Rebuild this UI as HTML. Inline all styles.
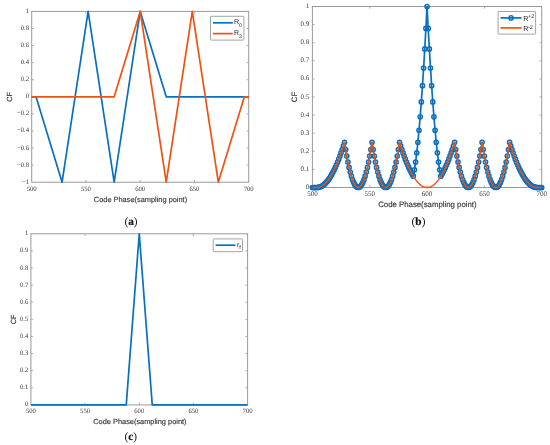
<!DOCTYPE html>
<html><head><meta charset="utf-8"><title>Figure</title>
<style>html,body{margin:0;padding:0;background:#fff}svg{display:block}text{text-rendering:geometricPrecision}</style>
</head><body>
<svg width="550" height="445" viewBox="0 0 550 445">
<rect width="550" height="445" fill="#fff"/>
<path d="M85.95 182.2v-2.2 M85.95 11.4v2.2 M140.2 182.2v-2.2 M140.2 11.4v2.2 M194.45 182.2v-2.2 M194.45 11.4v2.2 M31.7 165.12h2.2 M248.7 165.12h-2.2 M31.7 148.04h2.2 M248.7 148.04h-2.2 M31.7 130.96h2.2 M248.7 130.96h-2.2 M31.7 113.88h2.2 M248.7 113.88h-2.2 M31.7 96.8h2.2 M248.7 96.8h-2.2 M31.7 79.72h2.2 M248.7 79.72h-2.2 M31.7 62.64h2.2 M248.7 62.64h-2.2 M31.7 45.56h2.2 M248.7 45.56h-2.2 M31.7 28.48h2.2 M248.7 28.48h-2.2" stroke="#999" stroke-width="0.8" fill="none"/>
<rect x="31.7" y="11.4" width="217" height="170.8" fill="none" stroke="#999" stroke-width="1"/>
<g font-family="'Liberation Serif', serif" font-size="6.7" fill="#3a3a3a"><g text-anchor="middle"><text x="31.7" y="190.6">500</text><text x="85.95" y="190.6">550</text><text x="140.2" y="190.6">600</text><text x="194.45" y="190.6">650</text><text x="248.7" y="190.6">700</text></g><g text-anchor="end"><text x="29.1" y="183.7">−1</text><text x="29.1" y="166.62">−0.8</text><text x="29.1" y="149.54">−0.6</text><text x="29.1" y="132.46">−0.4</text><text x="29.1" y="115.38">−0.2</text><text x="29.1" y="98.3">0</text><text x="29.1" y="81.22">0.2</text><text x="29.1" y="64.14">0.4</text><text x="29.1" y="47.06">0.6</text><text x="29.1" y="29.98">0.8</text><text x="29.1" y="12.9">1</text></g></g>
<text x="140.5" y="201.6" text-anchor="middle" font-family="'Liberation Sans', sans-serif" font-size="7.4" stroke="#444" stroke-width="0.18" fill="#3a3a3a">Code Phase(sampling point)</text>
<text transform="translate(11.9 96.8) rotate(-90)" text-anchor="middle" font-family="'Liberation Sans', sans-serif" font-size="7.4" stroke="#444" stroke-width="0.18" fill="#3a3a3a">CF</text>
<polyline points="31.7,96.8 36.04,96.8 62.08,182.2 88.12,11.4 114.16,182.2 140.2,11.4 166.24,96.8 248.7,96.8" fill="none" stroke="#0870C0" stroke-width="1.7" stroke-linejoin="round"/>
<polyline points="31.7,96.8 114.16,96.8 140.2,11.4 166.24,182.2 192.28,11.4 218.32,182.2 244.36,96.8 248.7,96.8" fill="none" stroke="#F0520F" stroke-width="1.7" stroke-linejoin="round"/>
<rect x="210.5" y="16.3" width="33.4" height="23.8" fill="#fff" stroke="#8e8e8e" stroke-width="0.8" rx="0.6"/>
<path d="M213 22.8h19.8" stroke="#0870C0" stroke-width="1.7"/>
<path d="M213 33.6h19.8" stroke="#F0520F" stroke-width="1.7"/>
<g font-family="'Liberation Sans', sans-serif" font-size="7" fill="#222"><text x="234" y="24">R<tspan font-size="5.3" dy="2.6">0</tspan></text><text x="234" y="35">R<tspan font-size="5.3" dy="2.6">3</tspan></text></g>
<text x="131" y="224.8" text-anchor="middle" font-family="'Liberation Serif', serif" font-size="11.3" fill="#151515">(<tspan font-weight="bold" stroke="#151515" stroke-width="0.2">a</tspan>)</text>
<path d="M369.73 187.5v-2.2 M369.73 6.5v2.2 M427.05 187.5v-2.2 M427.05 6.5v2.2 M484.38 187.5v-2.2 M484.38 6.5v2.2 M312.4 169.4h2.2 M541.7 169.4h-2.2 M312.4 151.3h2.2 M541.7 151.3h-2.2 M312.4 133.2h2.2 M541.7 133.2h-2.2 M312.4 115.1h2.2 M541.7 115.1h-2.2 M312.4 97h2.2 M541.7 97h-2.2 M312.4 78.9h2.2 M541.7 78.9h-2.2 M312.4 60.8h2.2 M541.7 60.8h-2.2 M312.4 42.7h2.2 M541.7 42.7h-2.2 M312.4 24.6h2.2 M541.7 24.6h-2.2" stroke="#999" stroke-width="0.8" fill="none"/>
<rect x="312.4" y="6.5" width="229.3" height="181" fill="none" stroke="#999" stroke-width="1"/>
<g font-family="'Liberation Serif', serif" font-size="7" fill="#3a3a3a"><g text-anchor="middle"><text x="312.4" y="196.2">500</text><text x="369.73" y="196.2">550</text><text x="427.05" y="196.2">600</text><text x="484.38" y="196.2">650</text><text x="541.7" y="196.2">700</text></g><g text-anchor="end"><text x="309.2" y="189">0</text><text x="309.2" y="170.9">0.1</text><text x="309.2" y="152.8">0.2</text><text x="309.2" y="134.7">0.3</text><text x="309.2" y="116.6">0.4</text><text x="309.2" y="98.5">0.5</text><text x="309.2" y="80.4">0.6</text><text x="309.2" y="62.3">0.7</text><text x="309.2" y="44.2">0.8</text><text x="309.2" y="26.1">0.9</text><text x="309.2" y="8">1</text></g></g>
<text x="427.4" y="207.3" text-anchor="middle" font-family="'Liberation Sans', sans-serif" font-size="7.8" stroke="#444" stroke-width="0.18" fill="#3a3a3a">Code Phase(sampling point)</text>
<text transform="translate(296.7 97) rotate(-90)" text-anchor="middle" font-family="'Liberation Sans', sans-serif" font-size="7.8" stroke="#444" stroke-width="0.18" fill="#3a3a3a">CF</text>
<polyline points="312.4,187.5 313.55,187.5 314.69,187.5 315.84,187.5 316.99,187.5 318.13,187.42 319.28,187.19 320.43,186.79 321.57,186.24 322.72,185.54 323.87,184.67 325.01,183.65 326.16,182.47 327.3,181.14 328.45,179.64 329.6,177.99 330.74,176.19 331.89,174.22 333.04,172.1 334.18,169.82 335.33,167.39 336.48,164.8 337.62,162.05 338.77,159.14 339.92,156.08 341.06,152.86 342.21,149.48 343.36,145.94 344.5,142.25 345.65,149.48 346.79,156.08 347.94,162.05 349.09,167.39 350.23,172.1 351.38,176.19 352.53,179.64 353.67,182.47 354.82,184.67 355.97,186.24 357.11,187.19 358.26,187.5 359.41,187.19 360.55,186.24 361.7,184.67 362.85,182.47 363.99,179.64 365.14,176.19 366.29,172.1 367.43,167.39 368.58,162.05 369.73,156.08 370.87,149.48 372.02,142.25 373.16,149.48 374.31,156.08 375.46,162.05 376.6,167.39 377.75,172.1 378.9,176.19 380.04,179.64 381.19,182.47 382.34,184.67 383.48,186.24 384.63,187.19 385.78,187.5 386.92,187.19 388.07,186.24 389.22,184.67 390.36,182.47 391.51,179.64 392.65,176.19 393.8,172.1 394.95,167.39 396.09,162.05 397.24,156.08 398.39,149.48 399.53,142.25 400.68,145.94 401.83,149.48 402.97,152.86 404.12,156.08 405.27,159.14 406.41,162.05 407.56,164.8 408.71,167.39 409.85,169.82 411,172.1 412.15,174.22 413.29,176.19 414.44,169.82 415.59,162.05 416.73,152.86 417.88,142.25 419.02,130.23 420.17,116.8 421.32,101.95 422.46,85.69 423.61,68.01 424.76,48.92 425.9,28.42 427.05,6.5 428.2,28.42 429.34,48.92 430.49,68.01 431.64,85.69 432.78,101.95 433.93,116.8 435.08,130.23 436.22,142.25 437.37,152.86 438.52,162.05 439.66,169.82 440.81,176.19 441.95,174.22 443.1,172.1 444.25,169.82 445.39,167.39 446.54,164.8 447.69,162.05 448.83,159.14 449.98,156.08 451.13,152.86 452.27,149.48 453.42,145.94 454.57,142.25 455.71,149.48 456.86,156.08 458.01,162.05 459.15,167.39 460.3,172.1 461.45,176.19 462.59,179.64 463.74,182.47 464.88,184.67 466.03,186.24 467.18,187.19 468.32,187.5 469.47,187.19 470.62,186.24 471.76,184.67 472.91,182.47 474.06,179.64 475.2,176.19 476.35,172.1 477.5,167.39 478.64,162.05 479.79,156.08 480.94,149.48 482.08,142.25 483.23,149.48 484.38,156.08 485.52,162.05 486.67,167.39 487.81,172.1 488.96,176.19 490.11,179.64 491.25,182.47 492.4,184.67 493.55,186.24 494.69,187.19 495.84,187.5 496.99,187.19 498.13,186.24 499.28,184.67 500.43,182.47 501.57,179.64 502.72,176.19 503.87,172.1 505.01,167.39 506.16,162.05 507.31,156.08 508.45,149.48 509.6,142.25 510.74,145.94 511.89,149.48 513.04,152.86 514.18,156.08 515.33,159.14 516.48,162.05 517.62,164.8 518.77,167.39 519.92,169.82 521.06,172.1 522.21,174.22 523.36,176.19 524.5,177.99 525.65,179.64 526.8,181.14 527.94,182.47 529.09,183.65 530.24,184.67 531.38,185.54 532.53,186.24 533.67,186.79 534.82,187.19 535.97,187.42 537.11,187.5 538.26,187.5 539.41,187.5 540.55,187.5 541.7,187.5" fill="none" stroke="#0870C0" stroke-width="1.7" stroke-linejoin="round"/>
<g fill="none" stroke="#0870C0" stroke-width="1.5"><circle cx="312.4" cy="187.5" r="2.1"/><circle cx="313.55" cy="187.5" r="2.1"/><circle cx="314.69" cy="187.5" r="2.1"/><circle cx="315.84" cy="187.5" r="2.1"/><circle cx="316.99" cy="187.5" r="2.1"/><circle cx="318.13" cy="187.42" r="2.1"/><circle cx="319.28" cy="187.19" r="2.1"/><circle cx="320.43" cy="186.79" r="2.1"/><circle cx="321.57" cy="186.24" r="2.1"/><circle cx="322.72" cy="185.54" r="2.1"/><circle cx="323.87" cy="184.67" r="2.1"/><circle cx="325.01" cy="183.65" r="2.1"/><circle cx="326.16" cy="182.47" r="2.1"/><circle cx="327.3" cy="181.14" r="2.1"/><circle cx="328.45" cy="179.64" r="2.1"/><circle cx="329.6" cy="177.99" r="2.1"/><circle cx="330.74" cy="176.19" r="2.1"/><circle cx="331.89" cy="174.22" r="2.1"/><circle cx="333.04" cy="172.1" r="2.1"/><circle cx="334.18" cy="169.82" r="2.1"/><circle cx="335.33" cy="167.39" r="2.1"/><circle cx="336.48" cy="164.8" r="2.1"/><circle cx="337.62" cy="162.05" r="2.1"/><circle cx="338.77" cy="159.14" r="2.1"/><circle cx="339.92" cy="156.08" r="2.1"/><circle cx="341.06" cy="152.86" r="2.1"/><circle cx="342.21" cy="149.48" r="2.1"/><circle cx="343.36" cy="145.94" r="2.1"/><circle cx="344.5" cy="142.25" r="2.1"/><circle cx="345.65" cy="149.48" r="2.1"/><circle cx="346.79" cy="156.08" r="2.1"/><circle cx="347.94" cy="162.05" r="2.1"/><circle cx="349.09" cy="167.39" r="2.1"/><circle cx="350.23" cy="172.1" r="2.1"/><circle cx="351.38" cy="176.19" r="2.1"/><circle cx="352.53" cy="179.64" r="2.1"/><circle cx="353.67" cy="182.47" r="2.1"/><circle cx="354.82" cy="184.67" r="2.1"/><circle cx="355.97" cy="186.24" r="2.1"/><circle cx="357.11" cy="187.19" r="2.1"/><circle cx="358.26" cy="187.5" r="2.1"/><circle cx="359.41" cy="187.19" r="2.1"/><circle cx="360.55" cy="186.24" r="2.1"/><circle cx="361.7" cy="184.67" r="2.1"/><circle cx="362.85" cy="182.47" r="2.1"/><circle cx="363.99" cy="179.64" r="2.1"/><circle cx="365.14" cy="176.19" r="2.1"/><circle cx="366.29" cy="172.1" r="2.1"/><circle cx="367.43" cy="167.39" r="2.1"/><circle cx="368.58" cy="162.05" r="2.1"/><circle cx="369.73" cy="156.08" r="2.1"/><circle cx="370.87" cy="149.48" r="2.1"/><circle cx="372.02" cy="142.25" r="2.1"/><circle cx="373.16" cy="149.48" r="2.1"/><circle cx="374.31" cy="156.08" r="2.1"/><circle cx="375.46" cy="162.05" r="2.1"/><circle cx="376.6" cy="167.39" r="2.1"/><circle cx="377.75" cy="172.1" r="2.1"/><circle cx="378.9" cy="176.19" r="2.1"/><circle cx="380.04" cy="179.64" r="2.1"/><circle cx="381.19" cy="182.47" r="2.1"/><circle cx="382.34" cy="184.67" r="2.1"/><circle cx="383.48" cy="186.24" r="2.1"/><circle cx="384.63" cy="187.19" r="2.1"/><circle cx="385.78" cy="187.5" r="2.1"/><circle cx="386.92" cy="187.19" r="2.1"/><circle cx="388.07" cy="186.24" r="2.1"/><circle cx="389.22" cy="184.67" r="2.1"/><circle cx="390.36" cy="182.47" r="2.1"/><circle cx="391.51" cy="179.64" r="2.1"/><circle cx="392.65" cy="176.19" r="2.1"/><circle cx="393.8" cy="172.1" r="2.1"/><circle cx="394.95" cy="167.39" r="2.1"/><circle cx="396.09" cy="162.05" r="2.1"/><circle cx="397.24" cy="156.08" r="2.1"/><circle cx="398.39" cy="149.48" r="2.1"/><circle cx="399.53" cy="142.25" r="2.1"/><circle cx="400.68" cy="145.94" r="2.1"/><circle cx="401.83" cy="149.48" r="2.1"/><circle cx="402.97" cy="152.86" r="2.1"/><circle cx="404.12" cy="156.08" r="2.1"/><circle cx="405.27" cy="159.14" r="2.1"/><circle cx="406.41" cy="162.05" r="2.1"/><circle cx="407.56" cy="164.8" r="2.1"/><circle cx="408.71" cy="167.39" r="2.1"/><circle cx="409.85" cy="169.82" r="2.1"/><circle cx="411" cy="172.1" r="2.1"/><circle cx="412.15" cy="174.22" r="2.1"/><circle cx="413.29" cy="176.19" r="2.1"/><circle cx="414.44" cy="169.82" r="2.1"/><circle cx="415.59" cy="162.05" r="2.1"/><circle cx="416.73" cy="152.86" r="2.1"/><circle cx="417.88" cy="142.25" r="2.1"/><circle cx="419.02" cy="130.23" r="2.1"/><circle cx="420.17" cy="116.8" r="2.1"/><circle cx="421.32" cy="101.95" r="2.1"/><circle cx="422.46" cy="85.69" r="2.1"/><circle cx="423.61" cy="68.01" r="2.1"/><circle cx="424.76" cy="48.92" r="2.1"/><circle cx="425.9" cy="28.42" r="2.1"/><circle cx="427.05" cy="6.5" r="2.1"/><circle cx="428.2" cy="28.42" r="2.1"/><circle cx="429.34" cy="48.92" r="2.1"/><circle cx="430.49" cy="68.01" r="2.1"/><circle cx="431.64" cy="85.69" r="2.1"/><circle cx="432.78" cy="101.95" r="2.1"/><circle cx="433.93" cy="116.8" r="2.1"/><circle cx="435.08" cy="130.23" r="2.1"/><circle cx="436.22" cy="142.25" r="2.1"/><circle cx="437.37" cy="152.86" r="2.1"/><circle cx="438.52" cy="162.05" r="2.1"/><circle cx="439.66" cy="169.82" r="2.1"/><circle cx="440.81" cy="176.19" r="2.1"/><circle cx="441.95" cy="174.22" r="2.1"/><circle cx="443.1" cy="172.1" r="2.1"/><circle cx="444.25" cy="169.82" r="2.1"/><circle cx="445.39" cy="167.39" r="2.1"/><circle cx="446.54" cy="164.8" r="2.1"/><circle cx="447.69" cy="162.05" r="2.1"/><circle cx="448.83" cy="159.14" r="2.1"/><circle cx="449.98" cy="156.08" r="2.1"/><circle cx="451.13" cy="152.86" r="2.1"/><circle cx="452.27" cy="149.48" r="2.1"/><circle cx="453.42" cy="145.94" r="2.1"/><circle cx="454.57" cy="142.25" r="2.1"/><circle cx="455.71" cy="149.48" r="2.1"/><circle cx="456.86" cy="156.08" r="2.1"/><circle cx="458.01" cy="162.05" r="2.1"/><circle cx="459.15" cy="167.39" r="2.1"/><circle cx="460.3" cy="172.1" r="2.1"/><circle cx="461.45" cy="176.19" r="2.1"/><circle cx="462.59" cy="179.64" r="2.1"/><circle cx="463.74" cy="182.47" r="2.1"/><circle cx="464.88" cy="184.67" r="2.1"/><circle cx="466.03" cy="186.24" r="2.1"/><circle cx="467.18" cy="187.19" r="2.1"/><circle cx="468.32" cy="187.5" r="2.1"/><circle cx="469.47" cy="187.19" r="2.1"/><circle cx="470.62" cy="186.24" r="2.1"/><circle cx="471.76" cy="184.67" r="2.1"/><circle cx="472.91" cy="182.47" r="2.1"/><circle cx="474.06" cy="179.64" r="2.1"/><circle cx="475.2" cy="176.19" r="2.1"/><circle cx="476.35" cy="172.1" r="2.1"/><circle cx="477.5" cy="167.39" r="2.1"/><circle cx="478.64" cy="162.05" r="2.1"/><circle cx="479.79" cy="156.08" r="2.1"/><circle cx="480.94" cy="149.48" r="2.1"/><circle cx="482.08" cy="142.25" r="2.1"/><circle cx="483.23" cy="149.48" r="2.1"/><circle cx="484.38" cy="156.08" r="2.1"/><circle cx="485.52" cy="162.05" r="2.1"/><circle cx="486.67" cy="167.39" r="2.1"/><circle cx="487.81" cy="172.1" r="2.1"/><circle cx="488.96" cy="176.19" r="2.1"/><circle cx="490.11" cy="179.64" r="2.1"/><circle cx="491.25" cy="182.47" r="2.1"/><circle cx="492.4" cy="184.67" r="2.1"/><circle cx="493.55" cy="186.24" r="2.1"/><circle cx="494.69" cy="187.19" r="2.1"/><circle cx="495.84" cy="187.5" r="2.1"/><circle cx="496.99" cy="187.19" r="2.1"/><circle cx="498.13" cy="186.24" r="2.1"/><circle cx="499.28" cy="184.67" r="2.1"/><circle cx="500.43" cy="182.47" r="2.1"/><circle cx="501.57" cy="179.64" r="2.1"/><circle cx="502.72" cy="176.19" r="2.1"/><circle cx="503.87" cy="172.1" r="2.1"/><circle cx="505.01" cy="167.39" r="2.1"/><circle cx="506.16" cy="162.05" r="2.1"/><circle cx="507.31" cy="156.08" r="2.1"/><circle cx="508.45" cy="149.48" r="2.1"/><circle cx="509.6" cy="142.25" r="2.1"/><circle cx="510.74" cy="145.94" r="2.1"/><circle cx="511.89" cy="149.48" r="2.1"/><circle cx="513.04" cy="152.86" r="2.1"/><circle cx="514.18" cy="156.08" r="2.1"/><circle cx="515.33" cy="159.14" r="2.1"/><circle cx="516.48" cy="162.05" r="2.1"/><circle cx="517.62" cy="164.8" r="2.1"/><circle cx="518.77" cy="167.39" r="2.1"/><circle cx="519.92" cy="169.82" r="2.1"/><circle cx="521.06" cy="172.1" r="2.1"/><circle cx="522.21" cy="174.22" r="2.1"/><circle cx="523.36" cy="176.19" r="2.1"/><circle cx="524.5" cy="177.99" r="2.1"/><circle cx="525.65" cy="179.64" r="2.1"/><circle cx="526.8" cy="181.14" r="2.1"/><circle cx="527.94" cy="182.47" r="2.1"/><circle cx="529.09" cy="183.65" r="2.1"/><circle cx="530.24" cy="184.67" r="2.1"/><circle cx="531.38" cy="185.54" r="2.1"/><circle cx="532.53" cy="186.24" r="2.1"/><circle cx="533.67" cy="186.79" r="2.1"/><circle cx="534.82" cy="187.19" r="2.1"/><circle cx="535.97" cy="187.42" r="2.1"/><circle cx="537.11" cy="187.5" r="2.1"/><circle cx="538.26" cy="187.5" r="2.1"/><circle cx="539.41" cy="187.5" r="2.1"/><circle cx="540.55" cy="187.5" r="2.1"/><circle cx="541.7" cy="187.5" r="2.1"/></g>
<polyline points="312.4,187.5 312.97,187.5 313.55,187.5 314.12,187.5 314.69,187.5 315.27,187.5 315.84,187.5 316.41,187.5 316.99,187.5 317.56,187.48 318.13,187.42 318.71,187.32 319.28,187.19 319.85,187.01 320.43,186.79 321,186.54 321.57,186.24 322.15,185.91 322.72,185.54 323.29,185.12 323.87,184.67 324.44,184.18 325.01,183.65 325.58,183.08 326.16,182.47 326.73,181.82 327.3,181.14 327.88,180.41 328.45,179.64 329.02,178.84 329.6,177.99 330.17,177.11 330.74,176.19 331.32,175.23 331.89,174.22 332.46,173.18 333.04,172.1 333.61,170.98 334.18,169.82 334.76,168.63 335.33,167.39 335.9,166.11 336.48,164.8 337.05,163.44 337.62,162.05 338.2,160.61 338.77,159.14 339.34,157.63 339.92,156.08 340.49,154.49 341.06,152.86 341.64,151.19 342.21,149.48 342.78,147.73 343.36,145.94 343.93,144.12 344.5,142.25 345.08,145.94 345.65,149.48 346.22,152.86 346.79,156.08 347.37,159.14 347.94,162.05 348.51,164.8 349.09,167.39 349.66,169.82 350.23,172.1 350.81,174.22 351.38,176.19 351.95,177.99 352.53,179.64 353.1,181.14 353.67,182.47 354.25,183.65 354.82,184.67 355.39,185.54 355.97,186.24 356.54,186.79 357.11,187.19 357.69,187.42 358.26,187.5 358.83,187.42 359.41,187.19 359.98,186.79 360.55,186.24 361.13,185.54 361.7,184.67 362.27,183.65 362.85,182.47 363.42,181.14 363.99,179.64 364.57,177.99 365.14,176.19 365.71,174.22 366.29,172.1 366.86,169.82 367.43,167.39 368.01,164.8 368.58,162.05 369.15,159.14 369.73,156.08 370.3,152.86 370.87,149.48 371.44,145.94 372.02,142.25 372.59,145.94 373.16,149.48 373.74,152.86 374.31,156.08 374.88,159.14 375.46,162.05 376.03,164.8 376.6,167.39 377.18,169.82 377.75,172.1 378.32,174.22 378.9,176.19 379.47,177.99 380.04,179.64 380.62,181.14 381.19,182.47 381.76,183.65 382.34,184.67 382.91,185.54 383.48,186.24 384.06,186.79 384.63,187.19 385.2,187.42 385.78,187.5 386.35,187.42 386.92,187.19 387.5,186.79 388.07,186.24 388.64,185.54 389.22,184.67 389.79,183.65 390.36,182.47 390.94,181.14 391.51,179.64 392.08,177.99 392.65,176.19 393.23,174.22 393.8,172.1 394.37,169.82 394.95,167.39 395.52,164.8 396.09,162.05 396.67,159.14 397.24,156.08 397.81,152.86 398.39,149.48 398.96,145.94 399.53,142.25 400.11,144.12 400.68,145.94 401.25,147.73 401.83,149.48 402.4,151.19 402.97,152.86 403.55,154.49 404.12,156.08 404.69,157.63 405.27,159.14 405.84,160.61 406.41,162.05 406.99,163.44 407.56,164.8 408.13,166.11 408.71,167.39 409.28,168.63 409.85,169.82 410.43,170.98 411,172.1 411.57,173.18 412.15,174.22 412.72,175.23 413.29,176.19 413.87,177.11 414.44,177.99 415.01,178.84 415.59,179.64 416.16,180.41 416.73,181.14 417.3,181.82 417.88,182.47 418.45,183.08 419.02,183.65 419.6,184.18 420.17,184.67 420.74,185.12 421.32,185.54 421.89,185.91 422.46,186.24 423.04,186.54 423.61,186.79 424.18,187.01 424.76,187.19 425.33,187.32 425.9,187.42 426.48,187.48 427.05,187.5 427.62,187.48 428.2,187.42 428.77,187.32 429.34,187.19 429.92,187.01 430.49,186.79 431.06,186.54 431.64,186.24 432.21,185.91 432.78,185.54 433.36,185.12 433.93,184.67 434.5,184.18 435.08,183.65 435.65,183.08 436.22,182.47 436.8,181.82 437.37,181.14 437.94,180.41 438.52,179.64 439.09,178.84 439.66,177.99 440.23,177.11 440.81,176.19 441.38,175.23 441.95,174.22 442.53,173.18 443.1,172.1 443.67,170.98 444.25,169.82 444.82,168.63 445.39,167.39 445.97,166.11 446.54,164.8 447.11,163.44 447.69,162.05 448.26,160.61 448.83,159.14 449.41,157.63 449.98,156.08 450.55,154.49 451.13,152.86 451.7,151.19 452.27,149.48 452.85,147.73 453.42,145.94 453.99,144.12 454.57,142.25 455.14,145.94 455.71,149.48 456.29,152.86 456.86,156.08 457.43,159.14 458.01,162.05 458.58,164.8 459.15,167.39 459.73,169.82 460.3,172.1 460.87,174.22 461.45,176.19 462.02,177.99 462.59,179.64 463.16,181.14 463.74,182.47 464.31,183.65 464.88,184.67 465.46,185.54 466.03,186.24 466.6,186.79 467.18,187.19 467.75,187.42 468.32,187.5 468.9,187.42 469.47,187.19 470.04,186.79 470.62,186.24 471.19,185.54 471.76,184.67 472.34,183.65 472.91,182.47 473.48,181.14 474.06,179.64 474.63,177.99 475.2,176.19 475.78,174.22 476.35,172.1 476.92,169.82 477.5,167.39 478.07,164.8 478.64,162.05 479.22,159.14 479.79,156.08 480.36,152.86 480.94,149.48 481.51,145.94 482.08,142.25 482.66,145.94 483.23,149.48 483.8,152.86 484.38,156.08 484.95,159.14 485.52,162.05 486.09,164.8 486.67,167.39 487.24,169.82 487.81,172.1 488.39,174.22 488.96,176.19 489.53,177.99 490.11,179.64 490.68,181.14 491.25,182.47 491.83,183.65 492.4,184.67 492.97,185.54 493.55,186.24 494.12,186.79 494.69,187.19 495.27,187.42 495.84,187.5 496.41,187.42 496.99,187.19 497.56,186.79 498.13,186.24 498.71,185.54 499.28,184.67 499.85,183.65 500.43,182.47 501,181.14 501.57,179.64 502.15,177.99 502.72,176.19 503.29,174.22 503.87,172.1 504.44,169.82 505.01,167.39 505.59,164.8 506.16,162.05 506.73,159.14 507.31,156.08 507.88,152.86 508.45,149.48 509.02,145.94 509.6,142.25 510.17,144.12 510.74,145.94 511.32,147.73 511.89,149.48 512.46,151.19 513.04,152.86 513.61,154.49 514.18,156.08 514.76,157.63 515.33,159.14 515.9,160.61 516.48,162.05 517.05,163.44 517.62,164.8 518.2,166.11 518.77,167.39 519.34,168.63 519.92,169.82 520.49,170.98 521.06,172.1 521.64,173.18 522.21,174.22 522.78,175.23 523.36,176.19 523.93,177.11 524.5,177.99 525.08,178.84 525.65,179.64 526.22,180.41 526.8,181.14 527.37,181.82 527.94,182.47 528.52,183.08 529.09,183.65 529.66,184.18 530.24,184.67 530.81,185.12 531.38,185.54 531.95,185.91 532.53,186.24 533.1,186.54 533.67,186.79 534.25,187.01 534.82,187.19 535.39,187.32 535.97,187.42 536.54,187.48 537.11,187.5 537.69,187.5 538.26,187.5 538.83,187.5 539.41,187.5 539.98,187.5 540.55,187.5 541.13,187.5 541.7,187.5" fill="none" stroke="#F0520F" stroke-width="1.45" stroke-linejoin="round"/>
<rect x="498.1" y="11.5" width="37.5" height="22.6" fill="#fff" stroke="#8e8e8e" stroke-width="0.8" rx="0.6"/>
<path d="M500.5 17.9h21" stroke="#0870C0" stroke-width="1.7"/>
<circle cx="511" cy="17.9" r="2.1" fill="none" stroke="#0870C0" stroke-width="1.5"/>
<path d="M500.5 27.9h21" stroke="#F0520F" stroke-width="1.7"/>
<g font-family="'Liberation Sans', sans-serif" font-size="7.2" fill="#222"><text x="523.2" y="21">R<tspan font-size="5.5" dx="-0.4" dy="-2.6">+2</tspan></text><text x="523.2" y="31.2">R<tspan font-size="5.5" dx="-0.4" dy="-2.6">-2</tspan></text></g>
<text x="418.5" y="224.8" text-anchor="middle" font-family="'Liberation Serif', serif" font-size="11.3" fill="#151515">(<tspan font-weight="bold" stroke="#151515" stroke-width="0.2">b</tspan>)</text>
<path d="M85.07 404.9v-2.2 M85.07 233.8v2.2 M139.25 404.9v-2.2 M139.25 233.8v2.2 M193.42 404.9v-2.2 M193.42 233.8v2.2 M30.9 387.79h2.2 M247.6 387.79h-2.2 M30.9 370.68h2.2 M247.6 370.68h-2.2 M30.9 353.57h2.2 M247.6 353.57h-2.2 M30.9 336.46h2.2 M247.6 336.46h-2.2 M30.9 319.35h2.2 M247.6 319.35h-2.2 M30.9 302.24h2.2 M247.6 302.24h-2.2 M30.9 285.13h2.2 M247.6 285.13h-2.2 M30.9 268.02h2.2 M247.6 268.02h-2.2 M30.9 250.91h2.2 M247.6 250.91h-2.2" stroke="#999" stroke-width="0.8" fill="none"/>
<rect x="30.9" y="233.8" width="216.7" height="171.1" fill="none" stroke="#999" stroke-width="1"/>
<g font-family="'Liberation Serif', serif" font-size="6.7" fill="#3a3a3a"><g text-anchor="middle"><text x="30.9" y="413.3">500</text><text x="85.07" y="413.3">550</text><text x="139.25" y="413.3">600</text><text x="193.42" y="413.3">650</text><text x="247.6" y="413.3">700</text></g><g text-anchor="end"><text x="28.3" y="406.4">0</text><text x="28.3" y="389.29">0.1</text><text x="28.3" y="372.18">0.2</text><text x="28.3" y="355.07">0.3</text><text x="28.3" y="337.96">0.4</text><text x="28.3" y="320.85">0.5</text><text x="28.3" y="303.74">0.6</text><text x="28.3" y="286.63">0.7</text><text x="28.3" y="269.52">0.8</text><text x="28.3" y="252.41">0.9</text><text x="28.3" y="235.3">1</text></g></g>
<text x="139.9" y="424" text-anchor="middle" font-family="'Liberation Sans', sans-serif" font-size="7.4" stroke="#444" stroke-width="0.18" fill="#3a3a3a">Code Phase(sampling point)</text>
<text transform="translate(15.8 319.35) rotate(-90)" text-anchor="middle" font-family="'Liberation Sans', sans-serif" font-size="7.4" stroke="#444" stroke-width="0.18" fill="#3a3a3a">CF</text>
<polyline points="30.9,404.9 126.25,404.9 139.25,233.8 152.25,404.9 247.6,404.9" fill="none" stroke="#0870C0" stroke-width="1.7" stroke-linejoin="round"/>
<rect x="213.2" y="238.9" width="29.3" height="12.8" fill="#fff" stroke="#8e8e8e" stroke-width="0.8" rx="0.6"/>
<path d="M215.6 245.2h19.8" stroke="#0870C0" stroke-width="1.7"/>
<g font-family="'Liberation Sans', sans-serif" font-size="7" fill="#222"><text x="237" y="246.6">r<tspan font-size="5.6" dy="2.6">f</tspan></text></g>
<text x="130.7" y="440.2" text-anchor="middle" font-family="'Liberation Serif', serif" font-size="11.3" fill="#151515">(<tspan font-weight="bold" stroke="#151515" stroke-width="0.2">c</tspan>)</text>
</svg>
</body></html>
